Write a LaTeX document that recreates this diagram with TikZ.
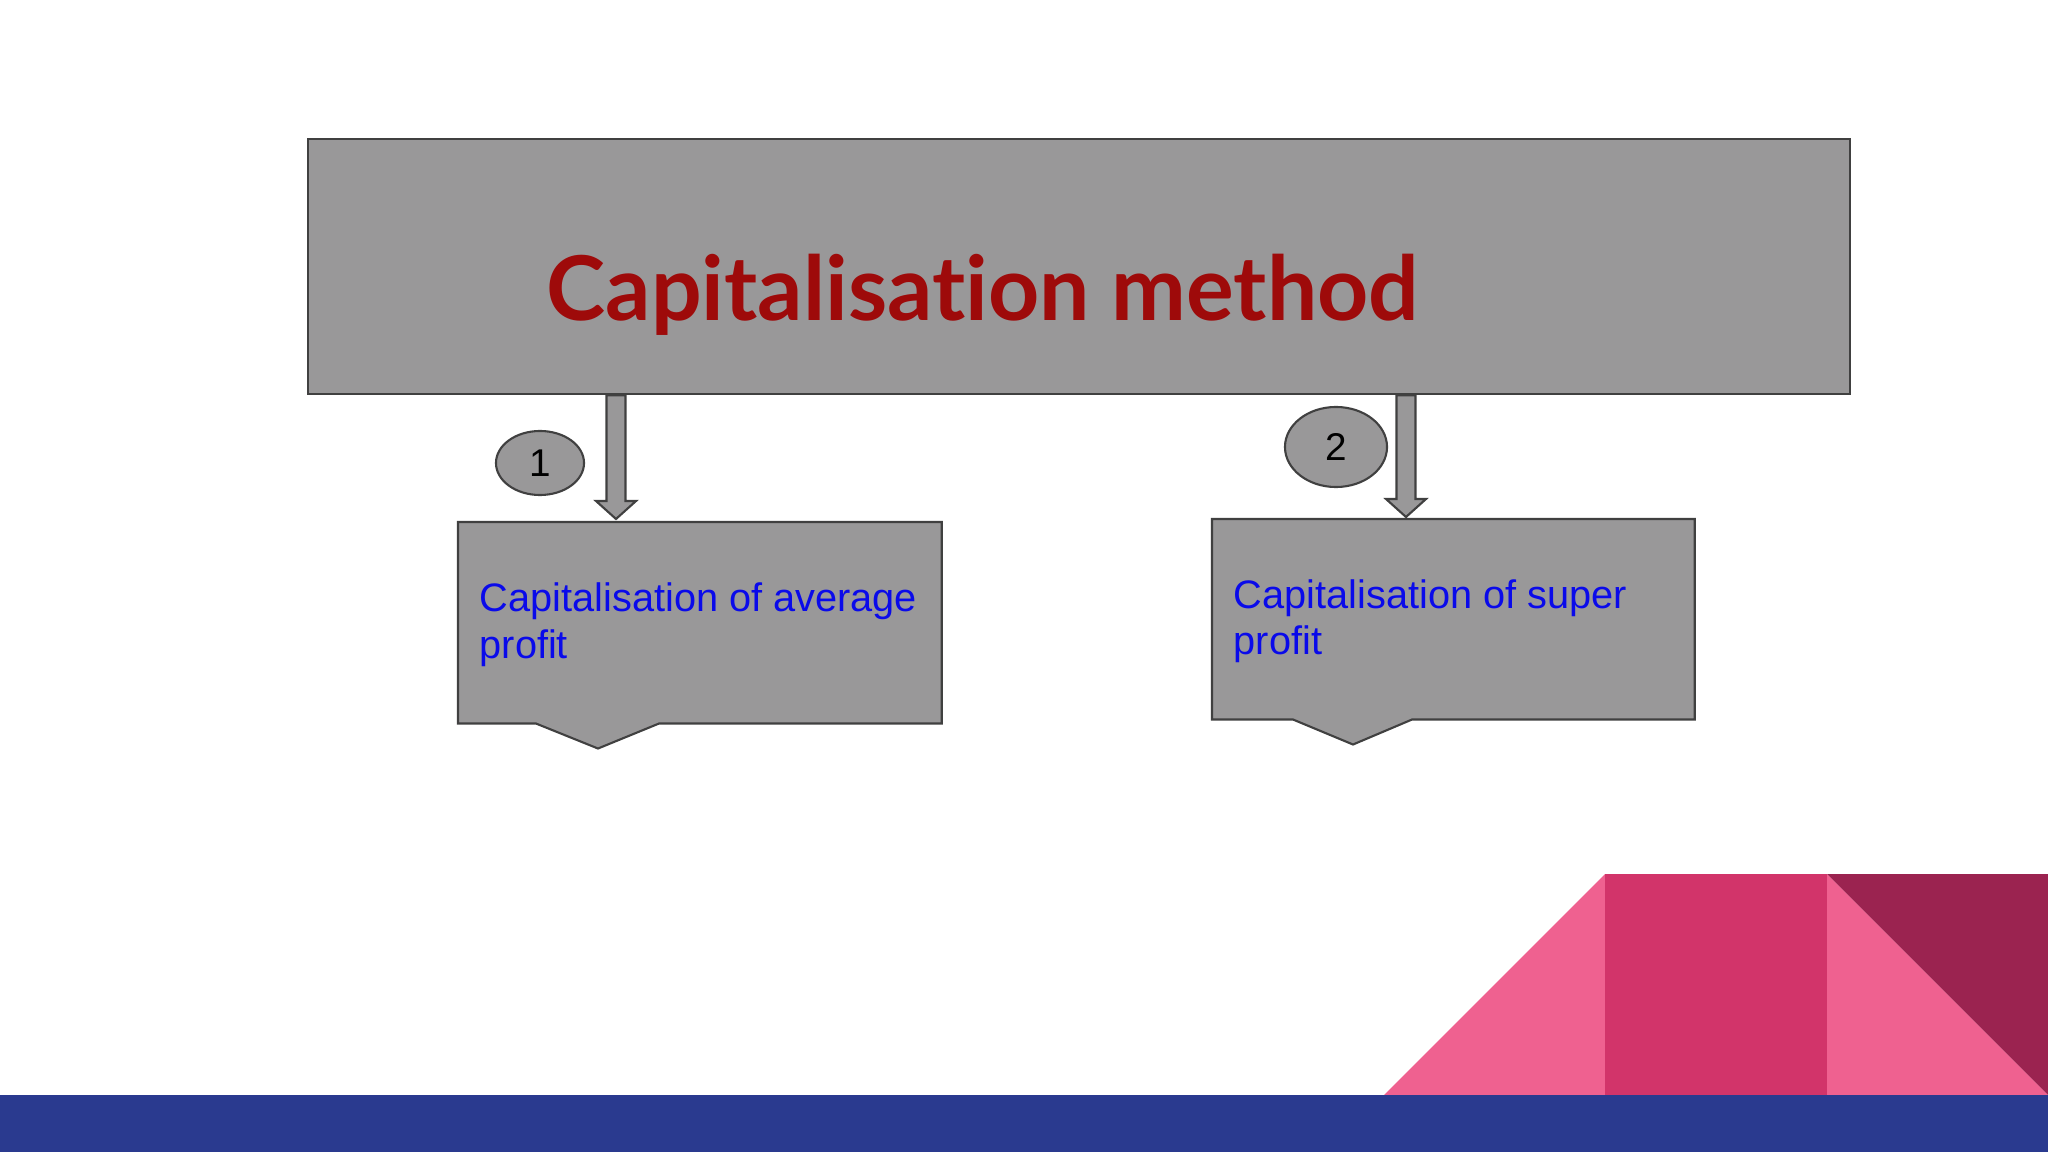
\documentclass[tikz,border=0pt]{standalone}
\usepackage{fontspec}
\setmainfont{Liberation Sans}
\newfontfamily\titlefont[Ligatures=NoCommon]{Lato}
\usetikzlibrary{calc,shapes.geometric}

\definecolor{boxgray}{HTML}{999899}
\definecolor{edgegray}{HTML}{404040}
\definecolor{titlered}{HTML}{9E0A0A}
\definecolor{textblue}{HTML}{0A0AEA}
\definecolor{pinklight}{HTML}{EF6190}
\definecolor{pinkmid}{HTML}{D2346A}
\definecolor{pinkdark}{HTML}{9B2350}
\definecolor{barblue}{HTML}{2A3A8F}

\tikzset{
  grayshape/.style={fill=boxgray, draw=edgegray, line width=0.6pt},
  boxarea/.style={rectangle, inner sep=0pt, anchor=north west},
  boxtext/.style={anchor=base west, inner sep=0pt, align=left, text=textblue,
    font=\fontsize{11.3}{13.1}\selectfont},
  numoval/.style={ellipse, grayshape, inner sep=0pt, font=\fontsize{11}{13}\selectfont}
}

\begin{document}
\begin{tikzpicture}[x=0.01cm, y=-0.01cm]
\useasboundingbox (0,0) rectangle (2048,1152);

% Title box
\node[boxarea, grayshape, minimum width=15.41cm, minimum height=2.55cm] (top) at (307,138) {};
\node[anchor=base west, inner sep=0pt, text=titlered,
  font=\titlefont\bfseries\fontsize{25.4}{30}\selectfont] (title) at (546,321) {Capitalisation method};

% Lower boxes (outline with notch drawn from the anchors)
\node[boxarea, minimum width=4.82cm, minimum height=2.00cm] (avgbox) at (458,522) {};
\node[boxarea, minimum width=4.81cm, minimum height=1.99cm] (supbox) at (1212,519) {};

\filldraw[grayshape] (avgbox.north west) -- (avgbox.north east) -- (avgbox.south east)
  -- ($(avgbox.south west)+(201,0)$) -- ($(avgbox.south west)+(140,25)$)
  -- ($(avgbox.south west)+(78,0)$) -- (avgbox.south west) -- cycle;
\filldraw[grayshape] (supbox.north west) -- (supbox.north east) -- (supbox.south east)
  -- ($(supbox.south west)+(200,0)$) -- ($(supbox.south west)+(141,25)$)
  -- ($(supbox.south west)+(81,0)$) -- (supbox.south west) -- cycle;

% Block arrows
\coordinate (s1) at (616,0 |- top.south);
\coordinate (e1) at ($(616,0 |- avgbox.north)+(0,-3)$);
\coordinate (s2) at (1406,0 |- top.south);
\coordinate (e2) at ($(1406,0 |- supbox.north)+(0,-2)$);
\foreach \s/\e in {s1/e1, s2/e2}
  \filldraw[grayshape] ([xshift=-0.095cm]\s) -- ([xshift=-0.095cm,yshift=0.18cm]\e)
    -- ([xshift=-0.2cm,yshift=0.18cm]\e) -- (\e) -- ([xshift=0.2cm,yshift=0.18cm]\e)
    -- ([xshift=0.095cm,yshift=0.18cm]\e) -- ([xshift=0.095cm]\s) -- cycle;

% Numbers
\node[numoval, minimum width=0.88cm, minimum height=0.64cm] (n1) at (540,463) {1};
\node[numoval, minimum width=1.02cm, minimum height=0.80cm] (n2) at (1336,447) {2};

% Box texts (base = last line)
\node[boxtext] (avgtext) at (479,658) {Capitalisation of average\\profit};
\node[boxtext] (suptext) at (1233,655) {Capitalisation of super\\profit};

% Corner decoration
\fill[pinklight] (1384,1095) -- (1605,874) -- (1605,1095) -- cycle;
\fill[pinkmid] (1605,874) rectangle (1827,1095);
\fill[pinklight] (1827,874) -- (2048,1095) -- (1827,1095) -- cycle;
\fill[pinkdark] (1827,874) -- (2048,874) -- (2048,1095) -- cycle;
\fill[barblue] (0,1095) rectangle (2048,1152);
\end{tikzpicture}
\end{document}
